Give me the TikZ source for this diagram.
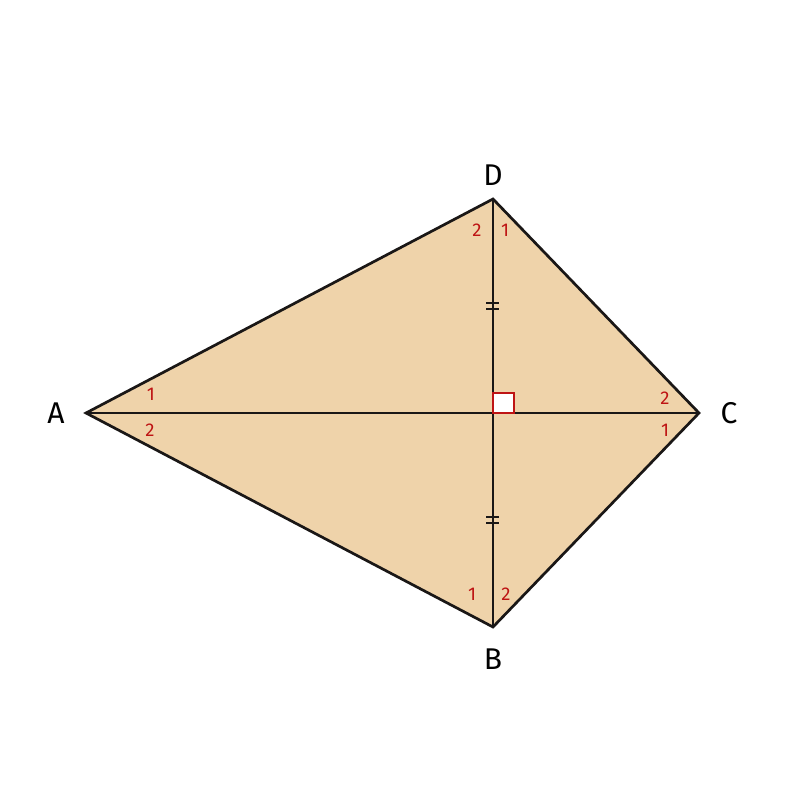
\documentclass[tikz,border=0pt]{standalone}
\usepackage{fontspec}
\setmainfont{Fira Sans}
\definecolor{kitefill}{RGB}{239,211,170}
\definecolor{edge}{RGB}{26,23,22}
\definecolor{angred}{RGB}{190,20,20}
\begin{document}
\begin{tikzpicture}[x=1pt,y=-1pt,
  side/.style={draw=edge,line width=2.7pt,line join=miter},
  vlabel/.style={font=\fontsize{30}{31}\selectfont,text=black,inner sep=0pt},
  anglab/.style={font=\fontsize{18.5}{19}\selectfont,text=angred,inner sep=0pt},
  tick/.style={draw=edge,line width=2.2pt}]
\useasboundingbox (0,0) rectangle (800,800);
\coordinate (A) at (86,413);
\coordinate (D) at (493,199);
\coordinate (C) at (699,413);
\coordinate (B) at (493,627);
\coordinate (O) at (493,413);
\fill[kitefill] (A) -- (D) -- (C) -- (B) -- cycle;
\draw[side] (A) -- (C);
\draw[side] (D) -- (B);
\draw[draw=angred,fill=white,line width=1.5pt] (O) rectangle ++(21,-20);
\draw[side] (A) -- (D) -- (C) -- (B) -- cycle;
\coordinate (t1a) at (486,303); \coordinate (t1b) at (499,303);
\coordinate (t2a) at (486,309); \coordinate (t2b) at (499,309);
\coordinate (t3a) at (486,517); \coordinate (t3b) at (499,517);
\coordinate (t4a) at (486,523); \coordinate (t4b) at (499,523);
\draw[tick] (t1a) -- (t1b);
\draw[tick] (t2a) -- (t2b);
\draw[tick] (t3a) -- (t3b);
\draw[tick] (t4a) -- (t4b);
\node[vlabel] (lD) at (493,175) {D};
\node[vlabel] (lB) at (493,659) {B};
\node[vlabel] (lA) at (56,413) {A};
\node[vlabel] (lC) at (729,413) {C};
\node[anglab] (d2) at (477,230) {2};
\node[anglab] (d1) at (505,230) {1};
\node[anglab] (a1) at (151,394) {1};
\node[anglab] (a2) at (150,430) {2};
\node[anglab] (c2) at (665,398) {2};
\node[anglab] (c1) at (665,430) {1};
\node[anglab] (b1) at (472,594) {1};
\node[anglab] (b2) at (506,594) {2};
\end{tikzpicture}
\end{document}
